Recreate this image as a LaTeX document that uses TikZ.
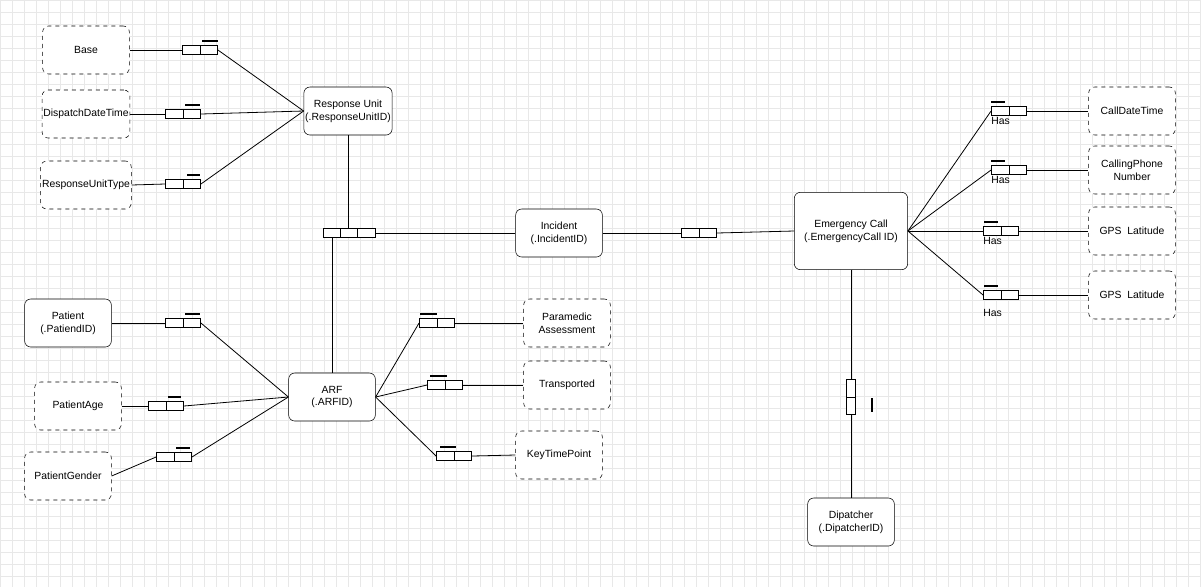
\documentclass[tikz,border=0pt]{standalone}
\usepackage{fontspec}
\setmainfont{Liberation Sans}
\begin{document}
\begin{tikzpicture}[x=0.75pt,y=-0.75pt,
  ent/.style={draw,rounded corners=4.5pt,minimum width=65pt,minimum height=36pt,align=center,font=\fontsize{7.8}{9.5}\selectfont,inner sep=1pt,fill=white},
  att/.style={ent,dashed},
  big/.style={ent,minimum width=85pt,minimum height=58pt},
  rb/.style={draw,minimum width=26.5pt,minimum height=6.5pt,inner sep=0pt,fill=white},
  rbv/.style={draw,minimum width=6.5pt,minimum height=26.5pt,inner sep=0pt,fill=white},
  rb3/.style={draw,minimum width=39pt,minimum height=6.5pt,inner sep=0pt,fill=white},
  bar/.style={line width=1pt},
  has/.style={font=\fontsize{7.8}{9}\selectfont,inner sep=0pt},
  ln/.style={draw,line width=0.6pt}]
\useasboundingbox (0,0) rectangle (1201,587);
\fill[white] (0,0) rectangle (1201,587);
\foreach \i in {0,12,...,1200} \draw[black!9,line width=0.4pt] (\i,0) -- (\i,587);
\foreach \j in {0,12,...,587} \draw[black!9,line width=0.4pt] (0,\j) -- (1201,\j);
% entities
\node[att] (base) at (86,50) {Base};
\node[att] (ddt) at (86,114) {DispatchDateTime};
\node[att] (rut) at (86,185) {ResponseUnitType};
\node[ent] (ru) at (348,111) {Response Unit\\(.ResponseUnitID)};
\node[ent] (inc) at (559,233) {Incident\\(.IncidentID)};
\node[big] (ec) at (851,231) {Emergency Call\\(.EmergencyCall ID)};
\node[att] (cdt) at (1132,111) {CallDateTime};
\node[att] (cpn) at (1132,170) {CallingPhone\\Number};
\node[att] (gps1) at (1132,231) {GPS\ \ Latitude};
\node[att] (gps2) at (1132,295) {GPS\ \ Latitude};
\node[ent] (pat) at (68,323) {Patient\\(.PatiendID)};
\node[att] (page) at (78,406) {PatientAge};
\node[att] (pgen) at (68,476) {PatientGender};
\node[ent] (arf) at (332,397) {ARF\\(.ARFID)};
\node[att] (pa) at (567,323) {Paramedic\\Assessment};
\node[att] (tr) at (567,385) {Transported};
\node[att] (ktp) at (559,455) {KeyTimePoint};
\node[ent] (dis) at (851,522) {Dipatcher\\(.DipatcherID)};
% relationship boxes
\newcommand\rel[5]{\node[rb] (#1) at (#2,#3) {};
  \draw (#1.north) -- (#1.south);
  \draw[bar] (#4,#3-9) -- (#5,#3-9);}
\rel{r1}{200}{50}{202}{218}
\rel{r2}{183}{114}{185}{200}
\rel{r3}{183}{184}{187}{200}
\rel{r4}{183}{323}{185}{200}
\rel{r5}{166}{406}{168}{181}
\rel{r6}{174}{457}{176}{190}
\rel{r7}{437}{323}{420}{437}
\rel{r8}{445}{385}{430}{447}
\rel{r9}{454}{456}{440}{456}
\rel{h1}{1009}{111}{991}{1005}
\rel{h2}{1009}{170}{991}{1005}
\rel{h3}{1001}{231}{984}{998}
\rel{h4}{1001}{295}{984}{998}
\node[rb] (r10) at (699,233) {}; \draw (r10.north) -- (r10.south);
\node[rb3] (c) at (349,233) {};
\draw (c.north)++(-8.7,0) -- ++(0,9); \draw (c.north)++(8.7,0) -- ++(0,9);
\node[rbv] (dv) at (851,397) {}; \draw (dv.west) -- (dv.east);
\draw[bar] (872,398) -- (872,412);
\node[has,anchor=north west] at (h1.south west) {\strut Has};
\node[has,anchor=north west] at (h2.south west) {\strut Has};
\node[has,anchor=north west] at (h3.south west) {\strut Has};
\node[has,anchor=north west] at ([yshift=-6pt]h4.south west) {\strut Has};
% connectors
\draw[ln] (base.east) -- (r1.west); \draw[ln] (r1.east) -- (ru.west);
\draw[ln] (ddt.east) -- (r2.west); \draw[ln] (r2.east) -- (ru.west);
\draw[ln] (rut.east) -- (r3.west); \draw[ln] (r3.east) -- (ru.west);
\draw[ln] (ru.south) -- (ru.south |- c.north);
\draw[ln] (c.east) -- (inc.west);
\draw[ln] (arf.north) -- (arf.north |- c.south);
\draw[ln] (inc.east) -- (r10.west); \draw[ln] (r10.east) -- (ec.west);
\draw[ln] (ec.east) -- (h1.west); \draw[ln] (h1.east) -- (cdt.west);
\draw[ln] (ec.east) -- (h2.west); \draw[ln] (h2.east) -- (cpn.west);
\draw[ln] (ec.east) -- (h3.west); \draw[ln] (h3.east) -- (gps1.west);
\draw[ln] (ec.east) -- (h4.west); \draw[ln] (h4.east) -- (gps2.west);
\draw[ln] (ec.south) -- (dv.north); \draw[ln] (dv.south) -- (dis.north);
\draw[ln] (pat.east) -- (r4.west); \draw[ln] (r4.east) -- (arf.west);
\draw[ln] (page.east) -- (r5.west); \draw[ln] (r5.east) -- (arf.west);
\draw[ln] (pgen.east) -- (r6.west); \draw[ln] (r6.east) -- (arf.west);
\draw[ln] (arf.east) -- (r7.west); \draw[ln] (r7.east) -- (pa.west);
\draw[ln] (arf.east) -- (r8.west); \draw[ln] (r8.east) -- (tr.west);
\draw[ln] (arf.east) -- (r9.west); \draw[ln] (r9.east) -- (ktp.west);
\end{tikzpicture}
\end{document}
